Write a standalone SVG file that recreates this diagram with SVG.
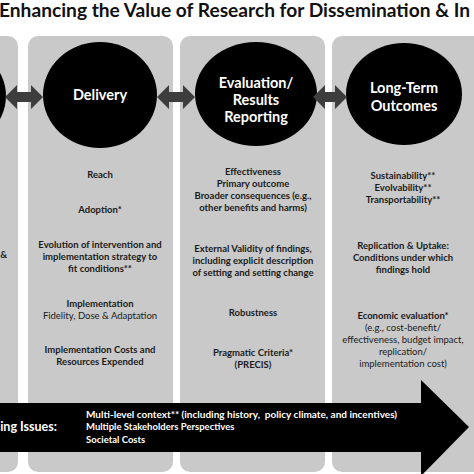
<svg xmlns="http://www.w3.org/2000/svg" width="474" height="474" viewBox="0 0 474 474">
<style>
.panel{fill:#c9c9c9}
.circ{fill:#000}
.darr{fill:#3d3d3d}
.ct{font-family:Lato,"Open Sans",sans-serif;font-weight:bold;font-size:14.5px;fill:#fff;text-anchor:middle}
.bt{font-family:Lato,"Open Sans",sans-serif;font-weight:bold;font-size:9.5px;fill:#1a1a1a;text-anchor:middle}
.nt{font-family:Lato,"Open Sans",sans-serif;font-weight:normal;font-size:9.5px;fill:#1a1a1a;text-anchor:middle}
.wt{font-family:Lato,"Open Sans",sans-serif;font-weight:bold;font-size:9.5px;fill:#fff}
.title{font-family:Lato,"Open Sans",sans-serif;font-weight:bold;font-size:18px;fill:#111}
</style>
<rect width="474" height="474" fill="#fff"/>
<text class="title" x="-1" y="17" textLength="471" lengthAdjust="spacingAndGlyphs">Enhancing the Value of Research for Dissemination &amp; In</text>

<g id="panel-left">
<rect class="panel" x="-30" y="36" width="48" height="436" rx="10"/>
<ellipse class="circ" cx="-52" cy="96" rx="58" ry="52"/>
<text class="bt" x="7" y="258" style="text-anchor:end">&amp;</text>
</g>

<g id="panel-delivery">
<rect class="panel" x="28" y="36" width="145" height="436" rx="10"/>
<ellipse class="circ" cx="100" cy="95" rx="57" ry="53"/>
<text class="ct" x="100" y="100">Delivery</text>
<text class="bt" x="100" y="178">Reach</text>
<text class="bt" x="100" y="213">Adoption*</text>
<text class="bt" x="100" y="248">Evolution of intervention and</text>
<text class="bt" x="100" y="260">implementation strategy to</text>
<text class="bt" x="100" y="272">fit conditions**</text>
<text class="bt" x="100" y="307">Implementation</text>
<text class="nt" x="100" y="319">Fidelity, Dose &amp; Adaptation</text>
<text class="bt" x="100" y="353">Implementation Costs and</text>
<text class="bt" x="100" y="365">Resources Expended</text>
</g>

<g id="panel-evaluation">
<rect class="panel" x="180" y="36" width="145" height="436" rx="10"/>
<ellipse class="circ" cx="256" cy="94" rx="61" ry="52"/>
<text class="ct" x="256" y="88">Evaluation/</text>
<text class="ct" x="256" y="105">Results</text>
<text class="ct" x="256" y="122">Reporting</text>
<text class="bt" x="253" y="175">Effectiveness</text>
<text class="bt" x="253" y="187">Primary outcome</text>
<text class="bt" x="253" y="199">Broader consequences (e.g.,</text>
<text class="bt" x="253" y="211">other benefits and harms)</text>
<text class="bt" x="253" y="252">External Validity of findings,</text>
<text class="bt" x="253" y="264">including explicit description</text>
<text class="bt" x="253" y="276">of setting and setting change</text>
<text class="bt" x="253" y="316">Robustness</text>
<text class="bt" x="253" y="356">Pragmatic Criteria*</text>
<text class="bt" x="253" y="368">(PRECIS)</text>
</g>

<g id="panel-longterm">
<rect class="panel" x="332" y="36" width="160" height="436" rx="10"/>
<ellipse class="circ" cx="404" cy="94" rx="58" ry="51"/>
<text class="ct" x="404" y="93">Long-Term</text>
<text class="ct" x="404" y="111">Outcomes</text>
<text class="bt" x="403" y="179">Sustainability**</text>
<text class="bt" x="403" y="191">Evolvability**</text>
<text class="bt" x="403" y="203">Transportability**</text>
<text class="bt" x="403" y="249">Replication &amp; Uptake:</text>
<text class="bt" x="403" y="261">Conditions under which</text>
<text class="bt" x="403" y="273">findings hold</text>
<text class="bt" x="403" y="319">Economic evaluation*</text>
<text class="nt" x="403" y="331">(e.g., cost-benefit/</text>
<text class="nt" x="403" y="343">effectiveness, budget impact,</text>
<text class="nt" x="403" y="355">replication/</text>
<text class="nt" x="403" y="367">implementation cost)</text>
</g>

<g id="connectors">
<path class="darr" d="M5 97 L17 85 L17 92 L31 92 L31 85 L43 97 L31 109 L31 102 L17 102 L17 109 Z"/>
<path class="darr" d="M157 97 L169 85 L169 92 L183 92 L183 85 L195 97 L183 109 L183 102 L169 102 L169 109 Z"/>
<path class="darr" d="M313 97 L325 85 L325 92 L335 92 L335 85 L347 97 L335 109 L335 102 L325 102 L325 109 Z"/>
</g>

<g id="crosscutting">
<path d="M-5 403 L421 403 L421 380 L469 427 L421 476 L421 452 L-5 452 Z" fill="#000"/>
<text class="wt" x="57" y="431" style="font-size:12.5px;text-anchor:end">ing Issues:</text>
<text class="wt" x="86" y="418" style="white-space:pre;font-size:10px">Multi-level context** (including history,  policy climate, and incentives)</text>
<text class="wt" x="86" y="430">Multiple Stakeholders Perspectives</text>
<text class="wt" x="86" y="443">Societal Costs</text>
</g>
</svg>
